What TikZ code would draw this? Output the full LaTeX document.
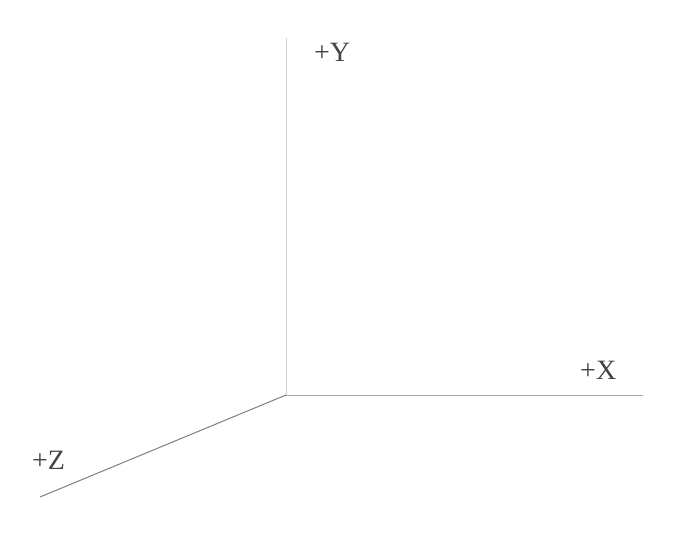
\documentclass[tikz,border=0pt]{standalone}
\usepackage{fontspec}
\setmainfont{Liberation Serif}
\definecolor{yaxis}{HTML}{CFCFCF}
\definecolor{xaxis}{HTML}{A9A9A9}
\definecolor{zaxis}{HTML}{808080}
\definecolor{labelc}{HTML}{444444}
\begin{document}
\begin{tikzpicture}[x=1pt,y=1pt,
  axislabel/.style={inner sep=0pt,anchor=base west,text=labelc,font=\fontsize{28}{31}\selectfont},
  axisline/.style={line width=1pt}]
\useasboundingbox (0,0) rectangle (676,533);
\coordinate (O) at (286,138);
\coordinate (Yend) at (286,495);
\coordinate (Xend) at (643,138);
\coordinate (Zend) at (40,36);
\draw[axisline,yaxis] (O) -- (Yend);
\draw[axisline,xaxis] (O) -- (Xend);
\draw[axisline,zaxis] (O) -- (Zend);
\node[axislabel] (ly) at (314,471) {+Y};
\node[axislabel] (lx) at (580,154) {+X};
\node[axislabel] (lz) at (32,64) {+Z};
\end{tikzpicture}
\end{document}
